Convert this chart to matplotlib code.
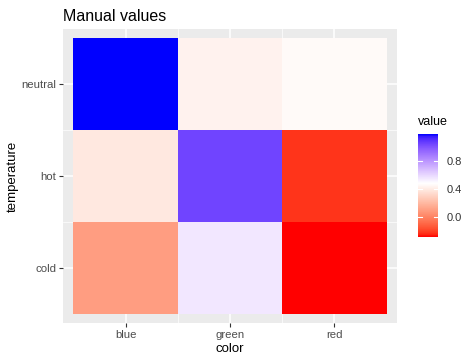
import numpy as np
import matplotlib
matplotlib.use('Agg')
import matplotlib.pyplot as plt
from matplotlib.colors import LinearSegmentedColormap, Normalize
from matplotlib.colorbar import ColorbarBase

plt.rcParams['font.family'] = ['Liberation Sans', 'DejaVu Sans']

colors = ['blue', 'green', 'red']
temps = ['cold', 'hot', 'neutral']
# rows follow temps, columns follow colors
values = np.array([
    [0.10, 0.55, -0.28],
    [0.39, 1.04, -0.22],
    [1.18, 0.43, 0.46],
])
midpoint = 0.48
cbar_ticks = [0.0, 0.4, 0.8]


def lab_to_rgb(L, a, b):
    fy = (L + 16) / 116
    fx = fy + a / 500
    fz = fy - b / 200

    def finv(t):
        return t ** 3 if t > 6 / 29 else 3 * (6 / 29) ** 2 * (t - 4 / 29)

    X, Y, Z = 0.95047 * finv(fx), finv(fy), 1.08883 * finv(fz)
    m = np.array([[3.2406, -1.5372, -0.4986],
                  [-0.9689, 1.8758, 0.0415],
                  [0.0557, -0.2040, 1.0570]])
    lin = m @ np.array([X, Y, Z])
    lin = np.clip(lin, 0, 1)
    rgb = np.where(lin > 0.0031308, 1.055 * lin ** (1 / 2.4) - 0.055, 12.92 * lin)
    return tuple(np.clip(rgb, 0, 1))


# red -> white -> blue, interpolated in Lab like ggplot's gradient2
red_lab = np.array([53.24, 80.09, 67.20])
white_lab = np.array([100.0, 0.0, 0.0])
blue_lab = np.array([32.30, 79.19, -107.86])
vmin, vmax = values.min(), values.max()
mpos = (midpoint - vmin) / (vmax - vmin)
stops = []
for t in np.linspace(0, 1, 21):
    stops.append((t * mpos, lab_to_rgb(*(red_lab + (white_lab - red_lab) * t))))
for t in np.linspace(0, 1, 21)[1:]:
    stops.append((mpos + t * (1 - mpos), lab_to_rgb(*(white_lab + (blue_lab - white_lab) * t))))
cmap = LinearSegmentedColormap.from_list('gr2', stops)
norm = Normalize(vmin=vmin, vmax=vmax)

fig = plt.figure(figsize=(4.74, 3.64), dpi=100)
ax = fig.add_axes([63 / 474, 1 - 323 / 364, 334 / 474, 294 / 364])
ax.set_facecolor('#EBEBEB')

x = np.arange(1, len(colors) + 1)
y = np.arange(1, len(temps) + 1)
xe = np.concatenate([x - 0.5, [x[-1] + 0.5]])
ye = np.concatenate([y - 0.5, [y[-1] + 0.5]])
ax.pcolormesh(xe, ye, values, cmap=cmap, norm=norm, zorder=2)

ax.set_xlim(0.4, len(colors) + 0.6)
ax.set_ylim(0.4, len(temps) + 0.6)
ax.set_xticks(x)
ax.set_xticklabels(colors)
ax.set_yticks(y)
ax.set_yticklabels(temps)
ax.set_xticks(x[:-1] + 0.5, minor=True)
ax.set_yticks(y[:-1] + 0.5, minor=True)
ax.grid(True, which='major', color='white', linewidth=1.1, zorder=1)
ax.grid(True, which='minor', color='white', linewidth=0.5, zorder=1)
ax.set_axisbelow(True)
for s in ax.spines.values():
    s.set_visible(False)
ax.tick_params(which='major', length=3, color='#333333', labelsize=8.2,
               labelcolor='#4D4D4D', pad=2)
ax.tick_params(which='minor', length=0)

ax.set_xlabel('color', fontsize=9.5, labelpad=2)
ax.set_ylabel('temperature', fontsize=9.5, labelpad=2)
ax.set_title('Manual values', fontsize=11.5, loc='left', pad=6)

cax = fig.add_axes([418 / 474, 1 - 237 / 364, 20 / 474, 103 / 364])
cb = ColorbarBase(cax, cmap=cmap, norm=norm, ticks=cbar_ticks)
cb.outline.set_visible(False)
cb.ax.set_yticklabels(['%.1f' % t for t in cbar_ticks])
cb.ax.tick_params(length=0, labelsize=8, labelcolor='#333333', pad=6)
for t in cbar_ticks:
    cax.plot([0, 0.2], [t, t], color='white', linewidth=0.8, transform=cax.get_yaxis_transform())
    cax.plot([0.8, 1], [t, t], color='white', linewidth=0.8, transform=cax.get_yaxis_transform())
fig.text(418 / 474, 1 - 122 / 364, 'value', fontsize=9, va='center', ha='left')

plt.savefig('out.png', dpi=100)
